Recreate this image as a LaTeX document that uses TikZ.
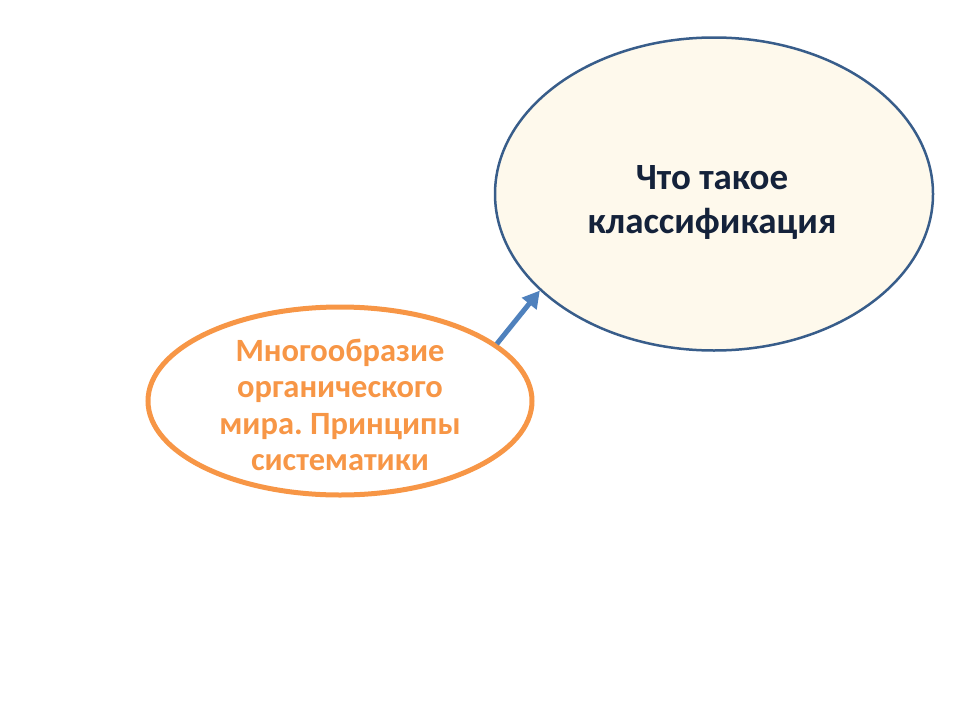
\documentclass[tikz,border=0pt]{standalone}
\usepackage{fontspec}
\setmainfont{Carlito}
\frenchspacing
\usetikzlibrary{positioning,shapes.geometric,arrows.meta}
\definecolor{topicorange}{HTML}{F79646}
\definecolor{arrowblue}{HTML}{4F81BD}
\definecolor{rimblue}{HTML}{385D8A}
\definecolor{creamfill}{HTML}{FEF9EC}
\definecolor{inkblue}{HTML}{14223A}
\tikzset{topic/.style={ellipse,draw=topicorange,line width=5pt,inner sep=0pt}}
\tikzset{topictext/.style={align=center,text=topicorange,font=\bfseries\fontsize{32.5}{36.5}\selectfont}}
\tikzset{question/.style={ellipse,draw=rimblue,fill=creamfill,line width=2.5pt,inner sep=0pt}}
\tikzset{questiontext/.style={align=center,text=inkblue,font=\bfseries\fontsize{37}{44}\selectfont}}
\tikzset{link/.style={-{Triangle[length=17pt,width=18pt]},arrowblue,line width=5pt}}

\begin{document}
\begin{tikzpicture}[x=1pt,y=-1pt]
  \useasboundingbox (0,0) rectangle (960,720);
  \node[topic,minimum width=384,minimum height=188] (topic) at (340,401) {};
  \node[topictext] (topiclabel) at ([yshift=-4pt]topic.center)
    {Многообразие\\органического\\мира. Принципы\\систематики};
  \node[question,minimum width=438,minimum height=313] (question) at (714,194) {};
  \node[questiontext] (questionlabel) at ([xshift=-2pt,yshift=-8pt]question.center)
    {Что такое\\классификация};
  \draw[link] (topic.20) -- (question.209);
\end{tikzpicture}
\end{document}
